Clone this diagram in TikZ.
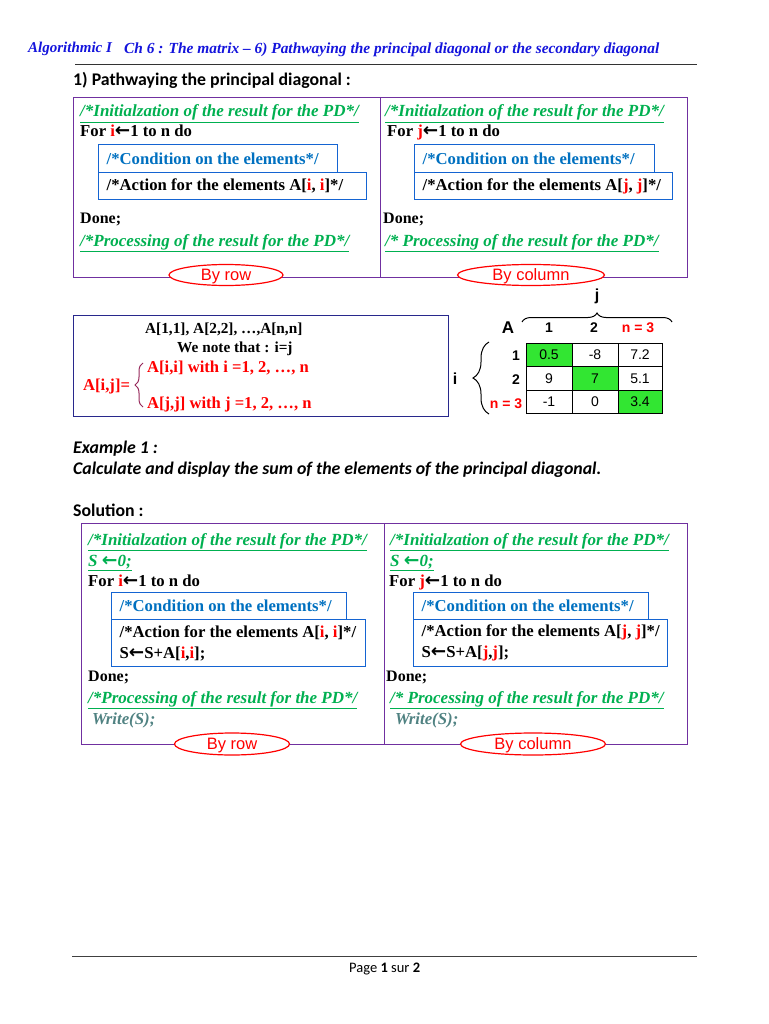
\documentclass[tikz,border=0pt]{standalone}
\usepackage{fontspec}
\setmainfont{Liberation Serif}
\newfontfamily\calib{Carlito}
\newfontfamily\arialf{Liberation Sans}
\newfontfamily\djv{DejaVu Sans}
\usetikzlibrary{decorations.pathreplacing,shapes.geometric}
\definecolor{cgreen}{RGB}{0,176,80}
\definecolor{cblue}{RGB}{0,112,192}
\definecolor{boxblue}{RGB}{20,100,210}
\definecolor{cpurple}{RGB}{112,48,160}
\definecolor{cnavy}{RGB}{40,40,140}
\definecolor{hblue}{RGB}{20,20,220}
\definecolor{cteal}{RGB}{80,130,130}
\definecolor{cgreencell}{RGB}{50,230,50}
\definecolor{bracered}{RGB}{150,40,90}
\newcommand\larr{{\djv\bfseries\scalebox{1.1}{←}}}
\newcommand\rd[1]{\textcolor{red}{#1}}
\tikzset{
  tx/.style={anchor=base west, inner sep=0pt},
  code/.style={tx, font=\fontsize{16.7}{19}\selectfont\bfseries},
  done/.style={tx, font=\fontsize{16}{18}\selectfont\bfseries},
  cmt/.style={tx, text=cgreen, font=\fontsize{17}{19}\selectfont\bfseries\itshape},
  wrt/.style={tx, text=cteal, font=\fontsize{16.8}{19}\selectfont\bfseries\itshape},
  bigbox/.style={draw=cpurple, line width=1.2pt},
  cbox/.style={draw=boxblue, line width=1.3pt, anchor=north west, inner xsep=8pt, inner ysep=0pt, align=flush left, font=\fontsize{16.7}{21}\selectfont\bfseries},
  oval/.style={ellipse, draw=red, line width=1.2pt, fill=white, inner sep=0pt, text=red, text height=12pt, text depth=1pt, font=\arialf\fontsize{16.5}{18}\selectfont},
  mid/.style={tx, font=\fontsize{15.3}{17}\selectfont\bfseries},
  midr/.style={tx, text=red, font=\fontsize{16.6}{18}\selectfont\bfseries},
  cell/.style={draw=black, line width=0.6pt, minimum width=46pt, minimum height=23.5pt, inner sep=0pt, font=\arialf\fontsize{14}{16}\selectfont},
  hd/.style={inner sep=0pt, font=\arialf\bfseries\fontsize{14}{16}\selectfont},
}
\begin{document}
\begin{tikzpicture}[x=1pt,y=-1pt]
\useasboundingbox (0,0) rectangle (768,1024);
% header
\node[tx, text=hblue, font=\fontsize{15}{17}\selectfont\bfseries\itshape] (h1) at (28,53) {Algorithmic I};
\node[tx, text=hblue, font=\fontsize{15.4}{17}\selectfont\bfseries\itshape] (h2) at (124,54) {Ch 6 : The matrix -- 6) Pathwaying the principal diagonal or the secondary diagonal};
\coordinate (hl1) at (75,64); \coordinate (hl2) at (697,64);
\draw[line width=0.8pt, black!80] (hl1) -- (hl2);
\node[tx, font=\calib\bfseries\fontsize{17.8}{19}\selectfont] (t1) at (73,86) {1) Pathwaying the principal diagonal :};
% top box
\node[bigbox, anchor=north west, minimum width=614pt, minimum height=180pt, inner sep=0pt] (topbox) at (73,97) {};
\coordinate (td1) at (380,97); \coordinate (td2) at (380,277);
\draw[draw=cpurple, line width=1pt] (td1) -- (td2);
% left
\node[cmt] (a1) at (80,117) {\underline{/*Initialzation of the result for the PD*/}};
\node[code] (a2) at (80,137) {For \rd{i}\larr1 to n do};
\node[cbox, text=cblue, text width=223pt, minimum height=28pt] (a3) at (98,144) {/*Condition on the elements*/};
\node[cbox, text width=252pt, minimum height=27pt] (a4) at (98,172) {/*Action for the elements A[\rd{i}, \rd{i}]*/};
\node[done] (a5) at (80,223) {Done;};
\node[cmt] (a6) at (80,246) {\underline{/*Processing of the result for the PD*/}};
\node[oval, minimum width=114pt, minimum height=21pt] (a7) at (226,275) {By row};
% right
\node[cmt] (b1) at (385,117) {\underline{/*Initialzation of the result for the PD*/}};
\node[code] (b2) at (387,137) {For \rd{j}\larr1 to n do};
\node[cbox, text=cblue, text width=224pt, minimum height=28pt] (b3) at (414,144) {/*Condition on the elements*/};
\node[cbox, text width=242pt, minimum height=27pt] (b4) at (414,172) {/*Action for the elements A[\rd{j}, \rd{j}]*/};
\node[done] (b5) at (383,223) {Done;};
\node[cmt] (b6) at (385,246) {\underline{/* Processing of the result for the PD*/}};
\node[oval, minimum width=147pt, minimum height=21pt] (b7) at (531,275) {By column};
% middle box
\node[draw=cnavy, line width=1.2pt, anchor=north west, minimum width=375pt, minimum height=101pt, inner sep=0pt] (midbox) at (73,315) {};
\node[mid] (m1) at (145,333) {A[1,1], A[2,2], \dots,A[n,n]};
\node[mid] (m2) at (177,352) {We note that : i=j};
\node[midr] (m3) at (147,372) {A[i,i] with i =1, 2, \dots, n};
\node[midr] (m4) at (83,390) {A[i,j]=};
\node[midr] (m5) at (147,408) {A[j,j] with j =1, 2, \dots, n};
\coordinate (br1) at (143,407); \coordinate (br2) at (143,363);
\draw[bracered, line width=1pt, decorate, decoration={brace, amplitude=8pt}] (br1) -- (br2);
% matrix
\node[cell, fill=cgreencell] (c11) at (549,355) {0.5};
\node[cell] (c12) at (595,355) {-8};
\node[cell, minimum width=44pt] (c13) at (640,355) {7.2};
\node[cell] (c21) at (549,378.5) {9};
\node[cell, fill=cgreencell] (c22) at (595,378.5) {7};
\node[cell, minimum width=44pt] (c23) at (640,378.5) {5.1};
\node[cell] (c31) at (549,402) {-1};
\node[cell] (c32) at (595,402) {0};
\node[cell, fill=cgreencell, minimum width=44pt] (c33) at (640,402) {3.4};
\node[hd, font=\arialf\bfseries\fontsize{17}{18}\selectfont] (mA) at (508,328) {A};
\node[hd] (h1c) at (549,328) {1};
\node[hd] (h2c) at (594,328) {2};
\node[hd, text=red] (h3c) at (638,328) {n = 3};
\node[hd] (r1) at (516,356) {1};
\node[hd] (r2) at (516,380) {2};
\node[hd, text=red] (r3) at (506,404) {n = 3};
\node[hd, font=\arialf\bfseries\fontsize{16}{18}\selectfont] (mj) at (597,296) {j};
\node[hd, font=\arialf\bfseries\fontsize{16}{18}\selectfont] (mi) at (455,379) {i};
\coordinate (hb1) at (522,322); \coordinate (hb2) at (672,322);
\draw[line width=1pt, decorate, decoration={brace, amplitude=9pt}] (hb1) -- (hb2);
\coordinate (vb1) at (489,414); \coordinate (vb2) at (489,342);
\draw[line width=1pt, decorate, decoration={brace, amplitude=16pt}] (vb1) -- (vb2);
% example
\node[tx, font=\calib\bfseries\itshape\fontsize{17.8}{19}\selectfont] (e1) at (73,453) {Example 1 :};
\node[tx, font=\calib\bfseries\itshape\fontsize{17.8}{19}\selectfont] (e2) at (73,474) {Calculate and display the sum of the elements of the principal diagonal.};
\node[tx, font=\calib\bfseries\fontsize{17.8}{19}\selectfont] (e3) at (73,516) {Solution :};
% solution box
\node[bigbox, anchor=north west, minimum width=606pt, minimum height=221pt, inner sep=0pt] (solbox) at (81,523) {};
\coordinate (sd1) at (384,523); \coordinate (sd2) at (384,744);
\draw[draw=cpurple, line width=1pt] (sd1) -- (sd2);
% left
\node[cmt] (s1) at (88,545) {\underline{/*Initialzation of the result for the PD*/}};
\node[cmt] (s2) at (88,566) {\underline{S \larr0;}};
\node[code] (s3) at (88,586) {For \rd{i}\larr1 to n do};
\node[cbox, text=cblue, text width=219pt, minimum height=27pt] (s4) at (111,592) {/*Condition on the elements*/};
\node[cbox, text width=238pt, minimum height=47pt] (s5) at (111,619) {/*Action for the elements A[\rd{i}, \rd{i}]*/\\S\larr S+A[\rd{i},\rd{i}];};
\node[done] (s6) at (88,681) {Done;};
\node[cmt] (s7) at (88,703) {\underline{/*Processing of the result for the PD*/}};
\node[wrt] (s8) at (92,724) {Write(S);};
\node[oval, minimum width=115pt, minimum height=22pt] (s9) at (232,744) {By row};
% right
\node[cmt] (u1) at (390,545) {\underline{/*Initialzation of the result for the PD*/}};
\node[cmt] (u2) at (390,566) {\underline{S \larr0;}};
\node[code] (u3) at (389,586) {For \rd{j}\larr1 to n do};
\node[cbox, text=cblue, text width=219pt, minimum height=27pt] (u4) at (413,592) {/*Condition on the elements*/};
\node[cbox, text width=238pt, minimum height=47pt] (u5) at (413,619) {/*Action for the elements A[\rd{j}, \rd{j}]*/\\S\larr S+A[\rd{j},\rd{j}];};
\node[done] (u6) at (386,681) {Done;};
\node[cmt] (u7) at (390,703) {\underline{/* Processing of the result for the PD*/}};
\node[wrt] (u8) at (395,724) {Write(S);};
\node[oval, minimum width=145pt, minimum height=22pt] (u9) at (533,744) {By column};
% footer
\coordinate (fl1) at (72,956); \coordinate (fl2) at (697,956);
\draw[line width=0.8pt, black!75] (fl1) -- (fl2);
\node[tx, font=\calib\fontsize{14.5}{16}\selectfont] (pg) at (349,972) {Page \textbf{1} sur \textbf{2}};
\end{tikzpicture}
\end{document}
